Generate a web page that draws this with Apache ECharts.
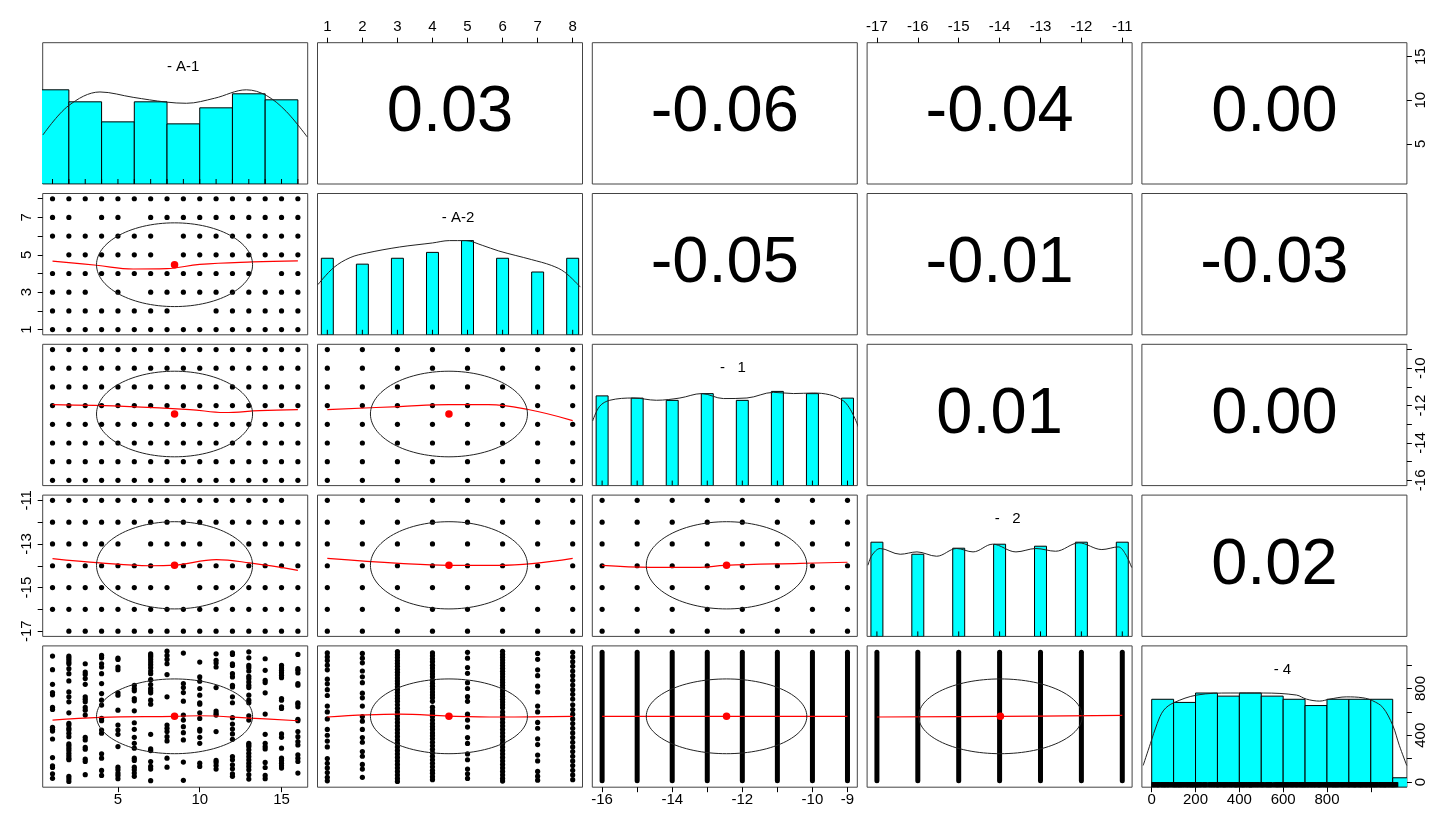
<!DOCTYPE html>
<html><head><meta charset="utf-8">
<script src="https://cdn.jsdelivr.net/npm/echarts@6/dist/echarts.min.js"></script>
<style>html,body{margin:0;padding:0;background:#fff}#c{width:1450px;height:830px}</style>
</head><body><div id="c"></div>
<script>
// ---------------- DATA ----------------
const varNames = ['- A-1', '- A-2', '-   1', '-   2', '- 4'];
const varMin = [1, 1, -16, -17, 0];
const varMax = [16, 8, -9, -11, 1120];
const varMean = [8.46, 4.47, -12.45, -13.98, 562];
const varSd = [4.77, 2.24, 2.29, 2.0, 320];

// correlations (upper panels): [row, col, r]
const corrs = [[0,1,0.03],[0,2,-0.06],[0,3,-0.04],[0,4,0.00],[1,2,-0.05],[1,3,-0.01],[1,4,-0.03],[2,3,0.01],[2,4,0.00],[3,4,0.02]];

// axis ticks / labels
const xTickVals = [[5,10,15],[1,2,3,4,5,6,7,8],[-16,-15,-14,-13,-12,-11,-10,-9],[-17,-16,-15,-14,-13,-12,-11],[0,200,400,600,800,1000]];
const xLabelVals = [[5,10,15],[1,2,3,4,5,6,7,8],[-16,-14,-12,-10,-9],[-17,-16,-15,-14,-13,-12,-11],[0,200,400,600,800]];
const yTickVals = [[5,10,15],[1,2,3,4,5,6,7,8],[-16,-15,-14,-13,-12,-11,-10,-9],[-17,-16,-15,-14,-13,-12,-11],[0,200,400,600,800,1000]];
const yLabelVals = [[5,10,15],[1,3,5,7],[-16,-14,-12,-10],[-17,-15,-13,-11],[0,400,800]];

// histograms
const hist1Breaks = [0,2,4,6,8,10,12,14,16];
const hist1Counts = [47,41,31,41,30,38,45,42];
const v1Levels = [1,2,3,4,5,6,7,8,9,10,11,12,13,14,15,16];
const v2Levels = [1,2,3,4,5,6,7,8];
const v2Counts = [39,36,39,42,48,39,32,39];
const v3Levels = [-16,-15,-14,-13,-12,-11,-10,-9];
const v3Counts = [40,39,38,41,38,42,41,39];
const v4Levels = [-17,-16,-15,-14,-13,-12,-11];
const v4Counts = [47,41,44,46,45,47,47];
const hist5Breaks = [0,100,200,300,400,500,600,700,800,900,1000,1100,1200];
const hist5Counts = [28,27,30,29,30,29,28,26,28,28,28,3];

// density curves (scaled so max = 1)
const dens1 = [[0.41,0.52],[1.97,0.83],[3.9,0.977],[5.93,0.92],[7.93,0.87],[9.19,0.857],[10.9,0.91],[12.85,1.0],[14.07,0.94],[15.29,0.77],[16.57,0.50]];
const dens2 = [[0.73,0.532],[1.18,0.713],[1.65,0.819],[2.12,0.868],[3.06,0.932],[4.0,0.975],[4.48,1.0],[4.95,1.0],[5.42,0.95],[5.89,0.89],[6.83,0.798],[7.39,0.737],[7.77,0.666],[8.22,0.506]];
const dens3 = [[-16.27,0.686],[-16.07,0.842],[-15.78,0.906],[-15.11,0.930],[-14.45,0.906],[-13.78,0.930],[-13.16,0.977],[-12.54,0.924],[-11.87,0.930],[-11.11,0.990],[-10.54,0.977],[-9.97,0.983],[-9.11,0.898],[-8.69,0.622]];
const dens4 = [[-17.22,0.755],[-17.12,0.862],[-16.92,0.933],[-16.43,0.872],[-16.02,0.897],[-15.54,0.851],[-15.05,0.933],[-14.65,0.897],[-14.17,0.979],[-13.6,0.897],[-13.11,0.933],[-12.63,0.904],[-12.06,0.993],[-11.5,0.922],[-11.1,0.950],[-10.93,0.880],[-10.77,0.731]];
const dens5 = [[-39,0.231],[-6,0.463],[25,0.676],[55,0.818],[100,0.896],[206,0.978],[358,1.0],[509,1.0],[661,0.978],[706,0.935],[767,0.914],[812,0.935],[888,0.959],[964,0.949],[1009,0.917],[1055,0.846],[1100,0.658],[1130,0.445],[1164,0.231]];

// discrete scatter panels: [y level, [x values present]]
const p10 = [ // y = A-2, x = A-1
 [8,[1,2,3,4,5,6,7,8,9,10,11,12,13,14,15,16]],
 [7,[1,2,4,5,7,8,9,10,11,12,13,14,15,16]],
 [6,[1,2,3,4,5,6,7,9,10,11,12,13,14,15,16]],
 [5,[2,3,4,5,6,7,9,10,11,12,13,14,15,16]],
 [4,[1,2,3,4,5,6,7,8,9,10,11,12,13,15,16]],
 [3,[1,2,3,5,7,8,9,10,11,12,13,14,15,16]],
 [2,[1,2,3,4,5,6,7,8,11,12,13,14,15,16]],
 [1,[1,2,3,4,5,6,7,8,9,10,11,12,13,14,15,16]]
];
const p20 = [ // y = "-   1", x = A-1
 [-9,[1,2,3,4,5,6,7,8,9,10,11,12,13,14,15,16]],
 [-10,[1,2,3,4,5,6,7,8,9,10,11,12,13,14,15,16]],
 [-11,[1,2,3,4,5,6,7,8,9,10,11,12,13,14,15,16]],
 [-12,[1,2,3,4,5,6,7,8,9,10,11,12,13,14,15,16]],
 [-13,[1,2,3,4,5,6,7,8,9,10,11,12,13,14,15,16]],
 [-14,[1,2,3,4,5,6,7,8,9,10,11,12,13,14,15,16]],
 [-15,[1,2,3,4,5,6,7,8,9,10,11,12,13,14,15,16]],
 [-16,[1,2,3,4,5,6,7,8,9,10,11,12,13,14,15,16]]
];
const p30 = [ // y = "-   2", x = A-1
 [-11,[1,2,3,4,5,6,7,8,9,10,11,12,13,14,15]],
 [-12,[1,2,3,4,5,6,7,8,9,10,11,12,13,14,15,16]],
 [-13,[1,2,3,4,5,7,8,9,10,12,13,14,15,16]],
 [-14,[1,2,3,4,5,6,7,9,10,11,12,13,14,15,16]],
 [-15,[1,2,3,4,5,6,7,8,10,11,12,13,14,15,16]],
 [-16,[1,2,3,4,5,6,7,8,9,10,11,12,13,14,15,16]],
 [-17,[2,3,4,5,6,7,8,9,10,11,12,13,14,15,16]]
];
const p21 = [ // y = "-   1", x = A-2
 [-9,[1,2,3,4,5,6,7,8]],[-10,[1,2,3,4,5,6,7,8]],[-11,[1,2,3,4,5,6,7,8]],[-12,[1,2,3,4,5,6,7,8]],
 [-13,[1,2,3,4,5,6,7,8]],[-14,[1,2,3,4,5,6,7,8]],[-15,[1,2,3,4,5,6,7,8]],[-16,[1,2,3,4,5,6,7,8]]
];
const p31 = [ // y = "-   2", x = A-2
 [-11,[1,2,3,4,5,6,7,8]],[-12,[1,2,3,4,5,6,7,8]],[-13,[1,2,3,4,5,6,7,8]],[-14,[1,2,3,4,5,6,7,8]],
 [-15,[1,2,3,4,5,6,7,8]],[-16,[1,2,3,4,5,6,7,8]],[-17,[1,2,3,4,5,6,7,8]]
];
const p32 = [ // y = "-   2", x = "-   1"
 [-11,[-16,-15,-14,-13,-12,-11,-10,-9]],[-12,[-16,-15,-14,-13,-12,-11,-10,-9]],[-13,[-16,-15,-14,-13,-12,-11,-10,-9]],
 [-14,[-16,-15,-14,-13,-12,-11,-10,-9]],[-15,[-16,-15,-14,-13,-12,-11,-10,-9]],[-16,[-16,-15,-14,-13,-12,-11,-10,-9]],
 [-17,[-16,-15,-14,-13,-12,-11,-10,-9]]
];
// "- 4" against A-1: values per A-1 level 1..16
const p40 = [
 [1078,961,836,765,746,638,621,468,451,436,368,209,139,124,70,31],
 [1078,1063,1046,1026,1012,970,927,865,771,729,686,592,502,487,459,445,417,388,326,309,289,269,246,224,204,190,48,28,5],
 [1012,941,921,885,836,729,709,686,638,615,573,382,360,297,280,195,175,62],
 [1083,1063,1012,984,927,842,757,700,658,544,524,445,417,241,204,99,56],
 [1061,1049,984,961,763,743,615,487,445,408,303,127,104,76,56,28],
 [828,800,780,714,695,609,507,451,382,331,289,204,184,127,104,76,48],
 [1097,1083,1069,1049,1026,1004,978,950,927,876,834,800,780,763,700,666,408,283,269,175,133,110,11],
 [1120,1083,1049,1012,919,729,487,459,431,388,351,204,127],
 [1103,842,808,765,692,573,530,473,422,360,170,14],
 [1026,899,862,800,743,678,666,592,544,451,436,382,331,161,133],
 [1097,1041,1018,984,808,607,587,573,431,184,167,141,110],
 [1106,1092,1012,998,927,899,828,814,729,678,550,496,453,411,365,218,190,147,113,70,48],
 [1114,1063,998,978,950,904,885,856,828,808,743,700,678,567,530,331,317,303,275,246,218,190,161,133,104,62,25],
 [1055,956,870,851,763,581,408,331,303,283,167,124,56,28],
 [998,975,956,936,913,893,714,700,643,629,411,382,289,204,184,161,139,119],
 [1092,970,956,933,842,828,678,666,643,536,524,431,388,346,317,232,204,175,76]
];
// "- 4" against A-2: values per A-2 level 1..8
const p41 = [
 [1105,1070,1040,1000,960,880,840,790,740,650,600,540,450,400,350,300,200,160,120,80,40,10],
 [1100,1060,1020,950,900,850,760,720,650,560,520,450,380,340,260,220,150,110,40],
 [1115,1090,1065,1040,1015,990,965,940,915,890,865,840,815,790,765,740,715,690,660,630,600,570,540,510,480,450,420,390,360,330,300,270,240,210,180,150,120,90,60,30,5],
 [1105,1080,1055,1030,1000,975,950,925,900,870,845,820,795,770,745,720,690,640,610,585,560,530,500,475,450,420,395,370,340,310,280,250,220,190,160,130,100,75,45,20],
 [1110,1060,980,930,850,800,730,690,580,530,470,380,330,240,190,110,70,30],
 [1118,1092,1068,1044,1020,996,972,948,924,900,876,852,828,804,780,756,732,708,684,660,636,600,570,540,510,480,450,420,390,360,330,300,270,240,210,180,150,120,90,60,30,8],
 [1100,1050,960,910,820,770,650,600,510,460,370,320,230,180,90,50,15],
 [1110,1070,1030,990,950,910,870,830,790,750,710,660,620,580,540,500,460,420,380,340,300,260,220,180,140,100,60,20]
];
// "- 4" against "-   1" and "-   2": dense columns [level, low, high]
const p42 = [[-16,10,1110],[-15,10,1110],[-14,10,1110],[-13,10,1110],[-12,10,1110],[-11,10,1110],[-10,10,1110],[-9,10,1110]];
const p43 = [[-17,10,1110],[-16,10,1110],[-15,10,1110],[-14,10,1110],[-13,10,1110],[-12,10,1110],[-11,10,1110]];

// loess smooths
const loess = {
 '1,0': [[1,4.66],[3.7,4.44],[5.93,4.24],[7.97,4.26],[10,4.49],[13.25,4.62],[16,4.67]],
 '2,0': [[1,-11.95],[5.73,-12.05],[9.4,-12.21],[11.5,-12.37],[13.66,-12.27],[16,-12.21]],
 '3,0': [[1,-13.67],[3.9,-13.87],[6.95,-14.0],[8.46,-13.97],[11.02,-13.72],[13.05,-13.87],[16,-14.21]],
 '4,0': [[1,530],[3.9,553],[8.46,562],[10,567],[13.05,547],[16,524]],
 '2,1': [[1,-12.21],[3.06,-12.05],[4.47,-11.95],[5.6,-11.95],[6.73,-12.21],[8,-12.8]],
 '3,1': [[1,-13.66],[3.06,-13.89],[4.47,-13.98],[5.89,-13.98],[8,-13.66]],
 '4,1': [[1,556],[3.06,580],[4.47,564],[5.89,556],[8,562]],
 '3,2': [[-16,-13.98],[-14.63,-14.07],[-13.2,-14.07],[-12.5,-13.98],[-10.35,-13.89],[-9,-13.84]],
 '4,2': [[-16,562],[-12.5,562],[-9,562]],
 '4,3': [[-17,556],[-14,562],[-11,570]]
};

// ---------------- CHART ----------------
const FONT = '"Liberation Sans", Arial, Helvetica, sans-serif';
const L0 = 42.7, CS = 274.8, CW = 265, T0 = 42.7, RS = 150.8, RH = 141.3;
function ext(v){ const r = varMax[v]-varMin[v]; return [varMin[v]-0.04*r, varMax[v]+0.04*r]; }

const grid = [], xAxis = [], yAxis = [], series = [];
const gIdx = (i,j) => i*5+j;

for (let i=0;i<5;i++) for (let j=0;j<5;j++){
  const g = gIdx(i,j);
  grid.push({left:L0+j*CS, top:T0+i*RS, width:CW, height:RH, show:true, borderColor:'#444', borderWidth:1,
             backgroundColor:'rgba(0,0,0,0)', containLabel:false, outerBoundsMode:'none'});
  const showX = (i===4 && j%2===0) || (i===0 && j%2===1);
  const xr = ext(j);
  xAxis.push({type:'value', gridIndex:g, min:xr[0], max:xr[1], position: i===0?'top':'bottom',
    axisLine:{show:false, onZero:false}, splitLine:{show:false},
    axisTick:{show:showX, length:5, lineStyle:{color:'#000', width:1}, customValues:xTickVals[j]},
    axisLabel:{show:showX, customValues:xLabelVals[j], fontSize:15, fontFamily:FONT, color:'#000',
               margin: i===0?8.5:5.4, formatter:v=>String(v)}});
  const showY = (j===0 && i%2===1) || (j===4 && i%2===0);
  const yr = ext(i);
  yAxis.push({type:'value', gridIndex:g, min:yr[0], max:yr[1], position: j===0?'left':'right',
    axisLine:{show:false, onZero:false}, splitLine:{show:false},
    axisTick:{show:showY, length:5, lineStyle:{color:'#000', width:1}, customValues:yTickVals[i]},
    axisLabel:{show:showY, customValues:yLabelVals[i], fontSize:15, fontFamily:FONT, color:'#000', rotate:90,
               margin: j===0?8.5:6, formatter:v=>String(v)}});
}
// hidden 0..1.5 axes for the diagonal histograms
const diagY = [];
for (let k=0;k<5;k++){
  diagY.push(yAxis.length);
  yAxis.push({type:'value', gridIndex:gIdx(k,k), min:0, max:1.5, show:false, axisLine:{onZero:false}, splitLine:{show:false}});
}

// --- diagonal panels
function histBars(k){
  if (k===0){ const m=Math.max(...hist1Counts); return hist1Counts.map((c,b)=>[hist1Breaks[b],hist1Breaks[b+1],c/m]); }
  if (k===4){ const m=Math.max(...hist5Counts); return hist5Counts.map((c,b)=>[hist5Breaks[b],hist5Breaks[b+1],c/m]); }
  const lv = [null,v2Levels,v3Levels,v4Levels][k], ct = [null,v2Counts,v3Counts,v4Counts][k];
  const m = Math.max(...ct), hw = (lv.length-1)/41;
  return lv.map((v,b)=>[v-hw, v+hw, ct[b]/m]);
}
const densAll = [dens1,dens2,dens3,dens4,dens5];
const rugVals = [v1Levels, v2Levels, v3Levels, v4Levels, p40.flat().concat(p41.flat())];

for (let k=0;k<5;k++){
  const g = gIdx(k,k), ya = diagY[k];
  series.push({type:'custom', xAxisIndex:g, yAxisIndex:ya, clip:true, silent:true, z:2,
    data: histBars(k),
    renderItem:(p,api)=>{ const a=api.coord([api.value(0),0]), b=api.coord([api.value(1),api.value(2)]);
      return {type:'rect', shape:{x:a[0], y:b[1], width:b[0]-a[0], height:a[1]-b[1]},
              style:{fill:'#00FFFF', stroke:'#000', lineWidth:1}}; }});
  series.push({type:'line', xAxisIndex:g, yAxisIndex:ya, data:densAll[k], showSymbol:false, smooth:0.35, silent:true,
    lineStyle:{color:'#222', width:1}, z:3});
  const rw = k===4 ? 2.5 : 1;
  series.push({type:'custom', xAxisIndex:g, yAxisIndex:ya, clip:true, silent:true, z:4,
    data: rugVals[k].map(v=>[v,0]),
    renderItem:(p,api)=>{ const a=api.coord([api.value(0),0]);
      return {type:'line', shape:{x1:a[0], y1:a[1], x2:a[0], y2:a[1]-5}, style:{stroke:'#000', lineWidth:rw}}; }});
  const name = varNames[k];
  series.push({type:'custom', xAxisIndex:g, yAxisIndex:ya, silent:true, z:5, data:[[0,0]],
    renderItem:(p,api)=>{ const cs=p.coordSys;
      return {type:'text', x:cs.x+cs.width/2+8, y:cs.y+24,
              style:{text:name, fill:'#000', font:'15px '+FONT, align:'center', verticalAlign:'middle'}}; }});
}

// --- upper panels: correlations
corrs.forEach(([i,j,r])=>{
  const g = gIdx(i,j), xr = ext(j), yr = ext(i);
  const txt = r.toFixed(2);
  series.push({type:'custom', xAxisIndex:g, yAxisIndex:g, silent:true, data:[[(xr[0]+xr[1])/2,(yr[0]+yr[1])/2]],
    renderItem:(p,api)=>{ const c=api.coord([api.value(0),api.value(1)]);
      return {type:'text', x:c[0], y:c[1],
              style:{text:txt, fill:'#000', font:'65px '+FONT, align:'center', verticalAlign:'middle'}}; }});
});

// --- lower panels
function addPoints(g, pts){
  series.push({type:'scatter', xAxisIndex:g, yAxisIndex:g, data:pts, symbol:'circle', symbolSize:5.2, silent:true,
    itemStyle:{color:'#000', opacity:1}, z:2, animation:false});
}
function gridRows(rows){ const out=[]; rows.forEach(([y,xs])=>xs.forEach(x=>out.push([x,y]))); return out; }
function colVals(levels, cols){ const out=[]; cols.forEach((vs,q)=>vs.forEach(v=>out.push([levels[q],v]))); return out; }

addPoints(gIdx(1,0), gridRows(p10));
addPoints(gIdx(2,0), gridRows(p20));
addPoints(gIdx(3,0), gridRows(p30));
addPoints(gIdx(2,1), gridRows(p21));
addPoints(gIdx(3,1), gridRows(p31));
addPoints(gIdx(3,2), gridRows(p32));
addPoints(gIdx(4,0), colVals(v1Levels, p40));
addPoints(gIdx(4,1), colVals(v2Levels, p41));
[[gIdx(4,2),p42],[gIdx(4,3),p43]].forEach(([g,segs])=>{
  series.push({type:'custom', xAxisIndex:g, yAxisIndex:g, silent:true, clip:true, z:2, data:segs,
    renderItem:(p,api)=>{ const a=api.coord([api.value(0),api.value(1)]), b=api.coord([api.value(0),api.value(2)]);
      return {type:'line', shape:{x1:a[0],y1:a[1],x2:b[0],y2:b[1]}, style:{stroke:'#000', lineWidth:5, lineCap:'round'}}; }});
});

for (let i=1;i<5;i++) for (let j=0;j<i;j++){
  const g = gIdx(i,j);
  series.push({type:'line', xAxisIndex:g, yAxisIndex:g, data:loess[i+','+j], showSymbol:false, smooth:0.4, silent:true,
    lineStyle:{color:'#FF0000', width:1.2}, z:3});
  series.push({type:'custom', xAxisIndex:g, yAxisIndex:g, silent:true, z:4,
    data:[[varMean[j], varMean[i], varSd[j], varSd[i]]],
    renderItem:(p,api)=>{ const mx=api.value(0), my=api.value(1), sx=api.value(2), sy=api.value(3), pts=[];
      for (let s=0;s<=120;s++){ const t=s/120*2*Math.PI; pts.push(api.coord([mx+sx*Math.cos(t), my+sy*Math.sin(t)])); }
      return {type:'polyline', shape:{points:pts}, style:{stroke:'#222', lineWidth:1, fill:null}}; }});
  series.push({type:'scatter', xAxisIndex:g, yAxisIndex:g, data:[[varMean[j], varMean[i]]], symbolSize:7.5, silent:true,
    itemStyle:{color:'#FF0000', opacity:1}, z:5});
}

const chart = echarts.init(document.getElementById('c'), null, {renderer:'canvas', width:1450, height:830});
chart.setOption({animation:false, backgroundColor:'#fff', grid, xAxis, yAxis, series});
</script></body></html>
